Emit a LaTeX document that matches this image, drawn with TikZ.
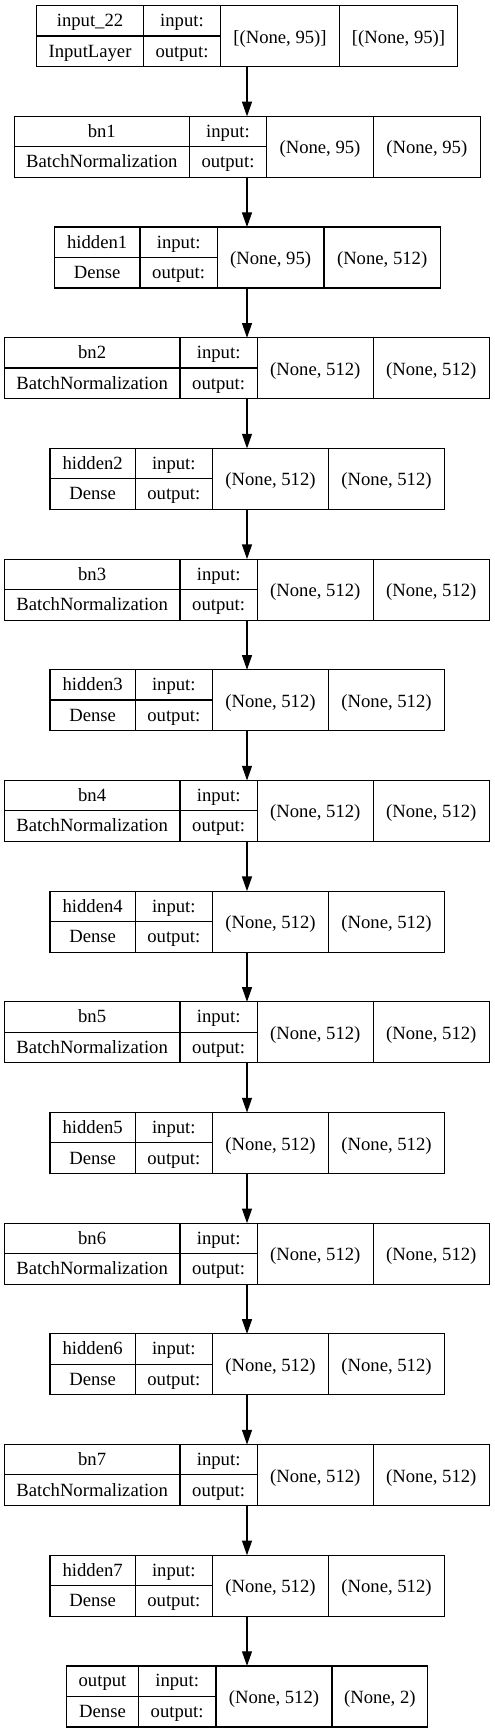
\documentclass[tikz,border=0pt]{standalone}
\usepackage{fontspec}
\setmainfont{Liberation Serif}
\usetikzlibrary{arrows.meta}
\newcommand\gIN{\def\xa{36.7}\def\xb{143.3}\def\xc{220.7}\def\xd{339.3}\def\xe{457.7}}
\newcommand\gBNa{\def\xa{14.3}\def\xb{189.3}\def\xc{266.7}\def\xd{373.3}\def\xe{480.3}}
\newcommand\gHa{\def\xa{54.3}\def\xb{140}\def\xc{217.3}\def\xd{324}\def\xe{440.3}}
\newcommand\gBN{\def\xa{4.3}\def\xb{180}\def\xc{257.3}\def\xd{373.3}\def\xe{489.3}}
\newcommand\gH{\def\xa{50}\def\xb{135.3}\def\xc{212.3}\def\xd{328.7}\def\xe{444.3}}
\newcommand\gOUT{\def\xa{66.7}\def\xb{138.3}\def\xc{216}\def\xd{332}\def\xe{427.7}}
\tikzset{
  layerbox/.style={draw=black, line width=0.9pt, inner sep=0pt, outer sep=0pt, anchor=north west, minimum height=45.75pt},
  rulel/.style={draw=black, line width=0.9pt},
  lbl/.style={anchor=base, inner sep=0pt, font=\fontsize{14}{16}\selectfont},
  arr/.style={draw=black, line width=0.9pt, -{Triangle[length=11pt,width=7.5pt]}}
}
\newcommand\klayer[7]{%
  #3%
  \pgfmathsetmacro\ktop{#2}%
  \pgfmathsetmacro\kw{(\xe-\xa)*0.75}%
  \node[layerbox, minimum width=\kw pt] (#1) at (\xa,\ktop) {};
  \draw[rulel] (\xb,\ktop) -- (\xb,{\ktop+61});
  \draw[rulel] (\xc,\ktop) -- (\xc,{\ktop+61});
  \draw[rulel] (\xd,\ktop) -- (\xd,{\ktop+61});
  \draw[rulel] (\xa,{\ktop+30.3}) -- (\xc,{\ktop+30.3});
  \node[lbl] (#1-name) at ({(\xa+\xb)/2},{\ktop+21}) {#4};
  \node[lbl] (#1-type) at ({(\xa+\xb)/2},{\ktop+51.5}) {#5};
  \node[lbl] (#1-il) at ({(\xb+\xc)/2},{\ktop+21}) {input:};
  \node[lbl] (#1-ol) at ({(\xb+\xc)/2},{\ktop+51.5}) {output:};
  \node[lbl] (#1-in) at ({(\xc+\xd)/2},{\ktop+37.5}) {#6};
  \node[lbl] (#1-out) at ({(\xd+\xe)/2},{\ktop+37.5}) {#7};
}
\begin{document}
\begin{tikzpicture}[x=0.75pt,y=-0.75pt]
\useasboundingbox (0,0) rectangle (495,1733);
\klayer{L0}{5.7+0*110.68}{\gIN}{input\_22}{InputLayer}{[(None, 95)]}{[(None, 95)]}
\klayer{L1}{5.7+1*110.68}{\gBNa}{bn1}{BatchNormalization}{(None, 95)}{(None, 95)}
\klayer{L2}{5.7+2*110.68}{\gHa}{hidden1}{Dense}{(None, 95)}{(None, 512)}
\klayer{L3}{5.7+3*110.68}{\gBN}{bn2}{BatchNormalization}{(None, 512)}{(None, 512)}
\klayer{L4}{5.7+4*110.68}{\gH}{hidden2}{Dense}{(None, 512)}{(None, 512)}
\klayer{L5}{5.7+5*110.68}{\gBN}{bn3}{BatchNormalization}{(None, 512)}{(None, 512)}
\klayer{L6}{5.7+6*110.68}{\gH}{hidden3}{Dense}{(None, 512)}{(None, 512)}
\klayer{L7}{5.7+7*110.68}{\gBN}{bn4}{BatchNormalization}{(None, 512)}{(None, 512)}
\klayer{L8}{5.7+8*110.68}{\gH}{hidden4}{Dense}{(None, 512)}{(None, 512)}
\klayer{L9}{5.7+9*110.68}{\gBN}{bn5}{BatchNormalization}{(None, 512)}{(None, 512)}
\klayer{L10}{5.7+10*110.68}{\gH}{hidden5}{Dense}{(None, 512)}{(None, 512)}
\klayer{L11}{5.7+11*110.68}{\gBN}{bn6}{BatchNormalization}{(None, 512)}{(None, 512)}
\klayer{L12}{5.7+12*110.68}{\gH}{hidden6}{Dense}{(None, 512)}{(None, 512)}
\klayer{L13}{5.7+13*110.68}{\gBN}{bn7}{BatchNormalization}{(None, 512)}{(None, 512)}
\klayer{L14}{5.7+14*110.68}{\gH}{hidden7}{Dense}{(None, 512)}{(None, 512)}
\klayer{L15}{5.7+15*110.68}{\gOUT}{output}{Dense}{(None, 512)}{(None, 2)}
\foreach \i [evaluate=\i as \j using int(\i+1)] in {0,...,14}
  \draw[arr] (L\i.south -| 247,0) -- (L\j.north -| 247,0);
\end{tikzpicture}
\end{document}
